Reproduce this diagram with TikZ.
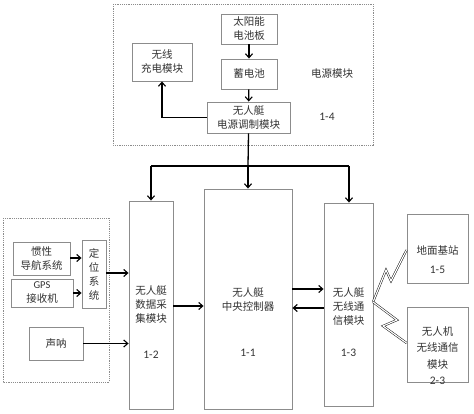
\documentclass[tikz,border=0pt]{standalone}
\usepackage{fontspec}
\setmainfont{Carlito}
\newfontfamily\cjk{Noto Sans CJK SC}
\usetikzlibrary{arrows.meta}
\definecolor{boxgray}{HTML}{8C8C8C}
\definecolor{txt}{HTML}{333333}
\tikzset{
  blk/.style={draw=boxgray,line width=0.9pt,fill=white,inner sep=0pt},
  dbox/.style={draw=boxgray,line width=0.7pt,dash pattern=on 1.2pt off 1pt},
  tx/.style={text=txt,font=\cjk\fontsize{10.5}{14}\selectfont,align=center,inner sep=0pt},
  num/.style={text=txt,font=\fontsize{11.5}{13}\selectfont,inner sep=0pt},
  arr/.style={line width=1.3pt,-{Straight Barb[length=4pt,width=7pt,line width=1.1pt]}},
  ln/.style={line width=1.3pt},
  bolt/.style={draw=black,line width=0.45pt,double=white,double distance=1.2pt}
}
\begin{document}
\begin{tikzpicture}[x=1pt,y=-1pt]
\useasboundingbox (0,0) rectangle (474,414);
% dashed groups
\draw[dbox] (113,4) rectangle (373,145);
\draw[dbox] (3,218) rectangle (109,382);
% power section
\node[blk,minimum width=56pt,minimum height=30pt] (solar) at (249,29) {};
\node[tx] (tsolar) at (249,29) {太阳能\\电池板};
\node[blk,minimum width=56pt,minimum height=30pt] (batt) at (249,74) {};
\node[tx] (tbatt) at (249,74) {蓄电池};
\node[blk,minimum width=83pt,minimum height=31pt] (pmod) at (248.5,117.5) {};
\node[tx] (tpmod) at (248.5,117.5) {无人艇\\电源调制模块};
\node[blk,minimum width=60pt,minimum height=38pt] (wch) at (162,62) {};
\node[tx] (twch) at (162,62) {无线\\充电模块};
\node[tx] (tpower) at (332,74) {电源模块};
\node[num] (n14) at (327,117) {1-4};
\draw[arr] (solar) -- (batt);
\draw[arr] (batt) -- (pmod);
\draw[arr] (pmod.west) -| (wch.south);
% main modules
\node[blk,minimum width=44pt,minimum height=208pt] (m12) at (151,305) {};
\node[tx] (t12) at (151,304) {无人艇\\数据采\\集模块};
\node[num] (n12) at (151,355) {1-2};
\node[blk,minimum width=88pt,minimum height=220pt] (m11) at (248,299) {};
\node[tx] (t11) at (248,299) {无人艇\\中央控制器};
\node[num] (n11) at (248,353) {1-1};
\node[blk,minimum width=49pt,minimum height=203pt] (m13) at (348.5,304.5) {};
\node[tx] (t13) at (348.5,306) {无人艇\\无线通\\信模块};
\node[num] (n13) at (348.5,353) {1-3};
\node[blk,minimum width=61pt,minimum height=69pt] (m15) at (437.5,248.5) {};
\node[tx] (t15) at (437.5,251) {地面基站};
\node[num] (n15) at (437.5,270) {1-5};
\node[blk,minimum width=61pt,minimum height=75pt] (m23) at (437.5,344.5) {};
\node[tx,font=\cjk\fontsize{10.5}{16.5}\selectfont] (t23) at (437.5,348) {无人机\\无线通信\\模块};
\node[num] (n23) at (437.5,381) {2-3};
% power bus
\coordinate (bus) at (248,166);
\coordinate (busl) at (151,166);
\coordinate (busr) at (349,166);
\draw[ln] (pmod.south) -- (bus);
\draw[ln] (busl) -- (busr);
\draw[arr] (busl) -- (busl |- m12.north);
\draw[arr] (bus) -- (m11.north);
\draw[arr] (busr) -- (busr |- m13.north);
% sensors
\node[blk,minimum width=57pt,minimum height=33pt] (ins) at (41.5,258.5) {};
\node[tx] (tins) at (41.5,258.5) {惯性\\导航系统};
\node[blk,minimum width=62pt,minimum height=28pt] (gps) at (42,293) {};
\node[tx] (tgps) at (42,293) {{\fontspec{Carlito}GPS}\\接收机};
\node[blk,minimum width=24pt,minimum height=68pt] (loc) at (94,274) {};
\node[tx] (tloc) at (94,274) {定\\位\\系\\统};
\node[blk,minimum width=54pt,minimum height=33pt] (sonar) at (56,343.5) {};
\node[tx] (tsonar) at (56,343.5) {声呐};
\draw[arr] (ins.east |- 0,258) -- (loc.west |- 0,258);
\draw[arr] (gps.east |- 0,293) -- (loc.west |- 0,293);
\draw[arr] (loc.east |- 0,273) -- (m12.west |- 0,273);
\draw[arr] (sonar.east) -- (m12.west |- sonar.east);
\draw[arr] (m12.east |- 0,306) -- (m11.west |- 0,306);
\draw[arr] (m11.east |- 0,289) -- (m13.west |- 0,289);
\draw[arr] (m13.west |- 0,308) -- (m11.east |- 0,308);
% wireless links
\coordinate (bs) at (373,302);
\draw[bolt] (bs) -- (386,270) -- (391,281) -- (m15.west |- 0,250);
\draw[bolt] (bs) -- (397,320) -- (383,326) -- (m23.west |- 0,343);
\end{tikzpicture}
\end{document}
